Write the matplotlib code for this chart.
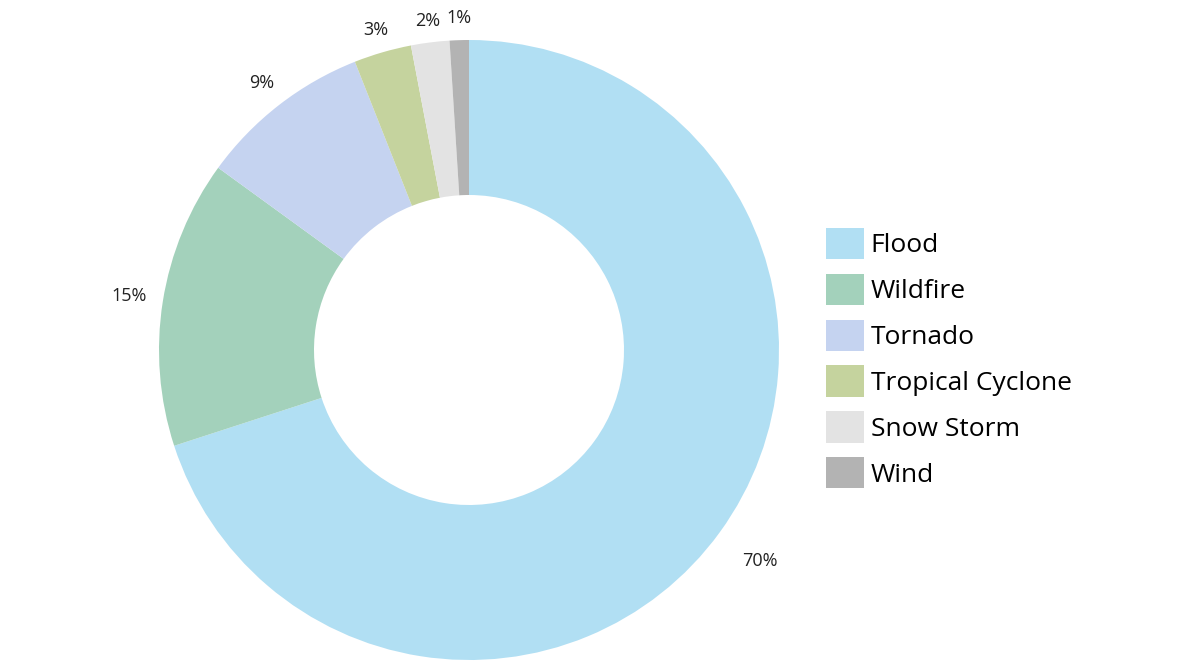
import matplotlib
matplotlib.use("Agg")
import matplotlib.pyplot as plt
import numpy as np
from matplotlib.patches import Patch

categories = ["Flood", "Wildfire", "Tornado", "Tropical Cyclone", "Snow Storm", "Wind"]
values = [70, 15, 9, 3, 2, 1]
colors = ["#b1dff3", "#a3d1bb", "#c5d3f0", "#c5d39e", "#e3e3e3", "#b3b3b3"]
label_dist = [1.16, 1.11, 1.09, 1.075, 1.07, 1.07]

plt.rcParams['font.family'] = ['Open Sans', 'DejaVu Sans']
fig = plt.figure(figsize=(11.94, 6.72), dpi=100)
ax = fig.add_axes([159/1194, 12/672, 620/1194, 620/672])
wedges, _ = ax.pie(values, colors=colors, startangle=90, counterclock=False,
       radius=1, wedgeprops=dict(width=0.5, linewidth=0))
for w, v, d in zip(wedges, values, label_dist):
    ang = np.deg2rad((w.theta1 + w.theta2) / 2)
    ax.text(d*np.cos(ang), d*np.sin(ang), f"{v}%", ha='center', va='center',
            fontsize=13, color="#222222")
ax.set_xlim(-1, 1); ax.set_ylim(-1, 1); ax.set_aspect('equal')
handles = [Patch(facecolor=c, edgecolor='none') for c in colors]
fig.legend(handles, categories, loc='center left', bbox_to_anchor=(802/1194, 0.467),
           frameon=False, fontsize=19, handlelength=1.45, handleheight=1.45,
           labelspacing=0.55, handletextpad=0.25)
fig.savefig("out.png", dpi=100)
